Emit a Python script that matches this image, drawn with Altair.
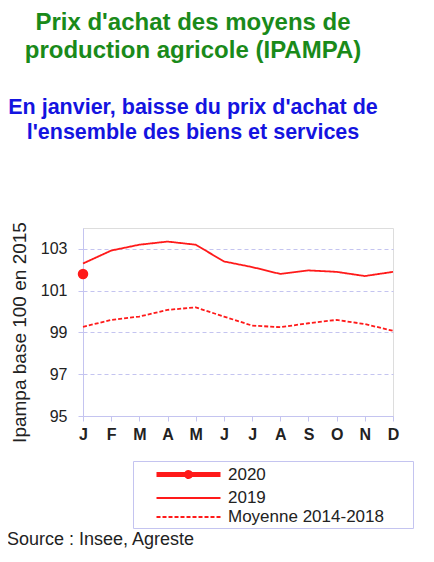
import altair as alt
import pandas as pd

months = ["J", "F", "M", "A", "M ", "J ", "J  ", "A ", "S", "O", "N", "D"]
v2019 = [102.3, 102.92, 103.2, 103.35, 103.2, 102.4, 102.13, 101.8, 101.97, 101.9, 101.7, 101.9]
vmoy = [99.27, 99.6, 99.76, 100.08, 100.2, 99.76, 99.33, 99.25, 99.44, 99.6, 99.4, 99.08]
v2020 = [101.8]
series_names = ["2020", "2019", "Moyenne 2014-2018"]

rows = []
for m, v in zip(months, v2019):
    rows.append({"month": m, "value": v, "series": "2019"})
for m, v in zip(months, vmoy):
    rows.append({"month": m, "value": v, "series": "Moyenne 2014-2018"})
lines_df = pd.DataFrame(rows)
pts_df = pd.DataFrame({"month": months[:len(v2020)], "value": v2020, "series": ["2020"] * len(v2020)})
src_df = pd.DataFrame({"t": ["Source : Insee, Agreste"]})

RED = "#ff1a1a"
LAV = "#c4c4f0"
FONT = "Liberation Sans"

label_expr = "{'M ':'M','J ':'J','J  ':'J','A ':'A'}[datum.value] || datum.value"

x_enc = alt.X("month:O", sort=months,
              scale=alt.Scale(type="point", padding=0, domain=months),
              axis=alt.Axis(title=None, labelAngle=0, grid=False, domainColor=LAV, tickColor=LAV,
                            tickSize=5, labelFontSize=16, labelFontWeight="bold", labelColor="#222",
                            labelPadding=5, labelExpr=label_expr, labelFont=FONT))
y_enc = alt.Y("value:Q", scale=alt.Scale(domain=[95, 104], nice=False, zero=False),
              axis=alt.Axis(values=[95, 97, 99, 101, 103], grid=True, gridDash=[4, 3], gridColor=LAV,
                            domainColor=LAV, tickColor=LAV, tickSize=5, labelFontSize=16,
                            labelColor="#222", labelPadding=11, labelFont=FONT,
                            title="Ipampa  base 100 en 2015", titleFontSize=19, titleFontWeight="normal",
                            titleColor="#222", titleFont=FONT, titlePadding=11, titleY=104))

line_path = "M-4,0H4"
dot_path = "M-4,0H4M0.25,0A0.25,0.25,0,1,1,-0.25,0A0.25,0.25,0,1,1,0.25,0Z"

legend = alt.Legend(
    title=".", titleOrient="right", titleOpacity=0, titleFontSize=10, titlePadding=23,
    orient="none", legendX=50, legendY=233,
    symbolSize=256, labelFontSize=17, labelFont=FONT, labelColor="#222",
    strokeColor=LAV, padding=3, rowPadding=2, symbolOffset=42, labelOffset=29,
)

color_enc = alt.Color("series:N", scale=alt.Scale(domain=series_names, range=[RED, RED, RED]),
                      legend=legend)
dash_enc = alt.StrokeDash("series:N", scale=alt.Scale(type="ordinal", domain=series_names,
                                                      range=[[1, 0], [1, 0], [4, 2]]))
width_enc = alt.StrokeWidth("series:N", scale=alt.Scale(type="ordinal", domain=series_names,
                                                        range=[5, 1.8, 1.8]))
shape_enc = alt.Shape("series:N", scale=alt.Scale(domain=series_names,
                                                  range=[dot_path, line_path, line_path]))

lines = alt.Chart(lines_df).mark_line().encode(
    x=x_enc, y=y_enc, color=color_enc, strokeDash=dash_enc, strokeWidth=width_enc,
)

pts = alt.Chart(pts_df).mark_circle(size=110, opacity=1).encode(
    x=alt.X("month:O", sort=months), y="value:Q", color=color_enc
)

dummy = alt.Chart(pts_df).mark_point(filled=False, size=256, opacity=1).encode(
    x=alt.X("month:O", sort=months), y="value:Q", color=color_enc, shape=shape_enc,
    strokeWidth=width_enc, strokeDash=dash_enc,
).transform_filter("datum.value > 1000")

src = alt.Chart(src_df).mark_text(align="left", baseline="middle", fontSize=18, font=FONT,
                                  color="#222").encode(
    x=alt.value(-76), y=alt.value(312), text="t:N")

chart = alt.layer(lines, pts, dummy, src).properties(
    width=310, height=188,
    padding={"left": 75, "top": 220, "right": 25, "bottom": 140},
    autosize=alt.AutoSizeParams(type="none"),
    title=alt.TitleParams(
        text=["Prix d'achat des moyens de", "production agricole (IPAMPA)"],
        subtitle=["En janvier, baisse du prix d'achat de", "l'ensemble des biens et services"],
        anchor="start", align="center", dx=186, offset=75,
        font=FONT, fontSize=24, fontWeight="bold", color="#1a8a1a", lineHeight=28,
        subtitleFont=FONT, subtitleFontSize=21.5, subtitleFontWeight="bold", subtitleColor="#1414e0",
        subtitleLineHeight=25, subtitlePadding=34,
    ),
).configure_view(stroke=None).configure(background="white")

chart.save("out.html", embed_options={"renderer": "svg", "actions": False})
